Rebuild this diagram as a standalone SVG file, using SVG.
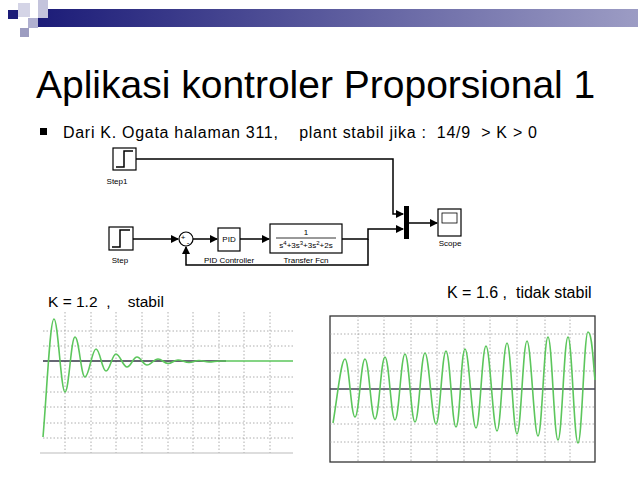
<svg xmlns="http://www.w3.org/2000/svg" width="638" height="478" viewBox="0 0 638 478">
<defs>
<linearGradient id="bar" x1="0" x2="1" y1="0" y2="0"><stop offset="0" stop-color="#1c1c78"/><stop offset="1" stop-color="#9c9cc4"/></linearGradient>
<marker id="ar" markerWidth="8" markerHeight="8" refX="7" refY="4" orient="auto" markerUnits="userSpaceOnUse"><path d="M0,0 L8,4 L0,8 z" fill="#000"/></marker>
<style>
.t{font-family:"Liberation Sans",Arial,sans-serif;fill:#000}
.s{font-family:"Liberation Sans",Arial,sans-serif;font-size:8px;fill:#000;text-anchor:middle}
.blk{fill:#fff;stroke:#000;stroke-width:1.2}
.ln{fill:none;stroke:#000;stroke-width:1.5}
.g{stroke:#999;stroke-width:0.8;stroke-dasharray:1.5 2;fill:none}
.gr{fill:none;stroke:#5cc65c;stroke-width:1.6}
</style>
</defs>
<rect width="638" height="478" fill="#fff"/>
<g id="header">
<rect x="38" y="9" width="600" height="18" fill="url(#bar)"/>
<rect x="18" y="3" width="12" height="14" fill="#d4d4e6"/>
<rect x="38" y="0" width="10" height="18" fill="#c4c4dc"/>
<rect x="8" y="10" width="10" height="9" fill="#1c1c78"/>
<rect x="28" y="18" width="10" height="10" fill="#b0b0d0"/>
<rect x="20" y="28" width="9" height="9" fill="#9c9cc0"/>
</g>
<text class="t" x="36" y="98" font-size="39">Aplikasi kontroler Proporsional 1</text>
<rect x="40" y="128" width="7" height="7" fill="#000"/>
<text class="t" x="63" y="138" font-size="16" textLength="474" xml:space="preserve">Dari K. Ogata halaman 311,    plant stabil jika :  14/9  &gt; K &gt; 0</text>

<g id="step1"><rect class="blk" x="113" y="148" width="23" height="22"/><path d="M116,167 H124 V151 H133" class="ln" stroke-width="1"/><text class="s" x="117" y="184">Step1</text></g>
<g id="step"><rect class="blk" x="109" y="227" width="24" height="23"/><path d="M112,247 H120 V230 H130" class="ln" stroke-width="1"/><text class="s" x="120" y="263">Step</text></g>
<g id="sum"><circle cx="186" cy="239" r="7" fill="#fff" stroke="#000" stroke-width="1.2"/><text class="s" x="183" y="240" font-size="7">+</text><text class="s" x="188" y="245" font-size="7">-</text></g>
<g id="pid"><rect class="blk" x="218" y="228" width="22" height="23"/><text class="s" x="229" y="242">PID</text><text class="s" x="229" y="263">PID Controller</text></g>
<g id="tf"><rect class="blk" x="270" y="224" width="72" height="29"/><text class="s" x="306" y="235">1</text><line x1="276" y1="238" x2="336" y2="238" stroke="#000" stroke-width="0.8"/><text class="s" x="306" y="248" font-size="7.5">s<tspan dy="-3" font-size="6">4</tspan><tspan dy="3">+3s</tspan><tspan dy="-3" font-size="6">3</tspan><tspan dy="3">+3s</tspan><tspan dy="-3" font-size="6">2</tspan><tspan dy="3">+2s</tspan></text><text class="s" x="306" y="263">Transfer Fcn</text></g>
<g id="mux"><rect x="404" y="206" width="5" height="33" fill="#000"/></g>
<g id="scope"><rect class="blk" x="438" y="209" width="23" height="27"/><rect x="442" y="213" width="15" height="10" fill="#fff" stroke="#000" stroke-width="0.8"/><text class="s" x="450" y="246">Scope</text></g>
<g id="connectors">
<path class="ln" d="M136,159 H393 V214 H403" marker-end="url(#ar)"/>
<path class="ln" d="M133,239 H178" marker-end="url(#ar)"/>
<path class="ln" d="M193,239 H217" marker-end="url(#ar)"/>
<path class="ln" d="M240,239 H269" marker-end="url(#ar)"/>
<path class="ln" d="M342,239 H368 V229 H403" marker-end="url(#ar)"/>
<path class="ln" d="M368,239 V265 H186 V247" marker-end="url(#ar)"/>
<path class="ln" d="M409,223 H437" marker-end="url(#ar)"/>
</g>

<text class="t" x="48" y="307" font-size="15.5" xml:space="preserve">K = 1.2  ,    stabil</text>
<text class="t" x="447" y="298" font-size="16" xml:space="preserve">K = 1.6 ,  tidak stabil</text>

<g id="plot1">
<g class="g">
<path d="M43,331 H293 M43,346 H293 M43,377 H293 M43,392 H293 M43,407 H293 M43,423 H293 M43,438 H293"/>
<path d="M65,312 V453 M91,312 V453 M116,312 V453 M142,312 V453 M168,312 V453 M193,312 V453 M219,312 V453 M244,312 V453 M270,312 V453"/>
</g>
<line x1="40" y1="453" x2="293" y2="453" stroke="#bbb" stroke-width="1"/>
<line x1="43" y1="361" x2="226" y2="361" stroke="#334" stroke-width="1.6"/>
<path class="gr" d="M43,437 C47,390 50,319 54,319 S61,392 65,392 S71,337 75,337 S81,377 85,377 S92,349 96,349 S102,371 106,371 S112,354 116,354 S123,367 127,367 S133,357 137,357 S143,365 147,365 S154,359 158,359 S164,363.5 168,363.5 S174,360 178,360 S185,362.5 189,362.5 S195,360.5 199,360.5 S205,362 209,362 S216,361 220,361 H293"/>
</g>

<g id="plot2">
<rect x="330" y="316" width="265" height="146" fill="#fff" stroke="#333" stroke-width="1.3"/>
<g class="g">
<path d="M330,334 H595 M330,353 H595 M330,371 H595 M330,407 H595 M330,424 H595 M330,442 H595"/>
<path d="M358,316 V462 M384,316 V462 M411,316 V462 M437,316 V462 M464,316 V462 M490,316 V462 M517,316 V462 M545,316 V462 M570,316 V462"/>
</g>
<line x1="330" y1="389" x2="595" y2="389" stroke="#445" stroke-width="1.4"/>
<path class="gr" d="M333,423 C337,400 341,359 345,359 S351,417 355,417 S361,359 365,359 S371,419 375,419 S381,357 385,357 S391,420 395,420 S401,354 405,354 S411,422 415,422 S421,353 425,353 S432,424 436,424 S442,351 446,351 S452,427 456,427 S461,349 465,349 S472,428 476,428 S482,346 486,346 S493,431 497,431 S503,343 507,343 S513,434 517,434 S523,341 527,341 S534,436 538,436 S544,337 548,337 S554,440 558,440 S564,337 568,337 S574,443 578,443 S584,332 588,332 S593,360 595,380"/>
</g>
</svg>
